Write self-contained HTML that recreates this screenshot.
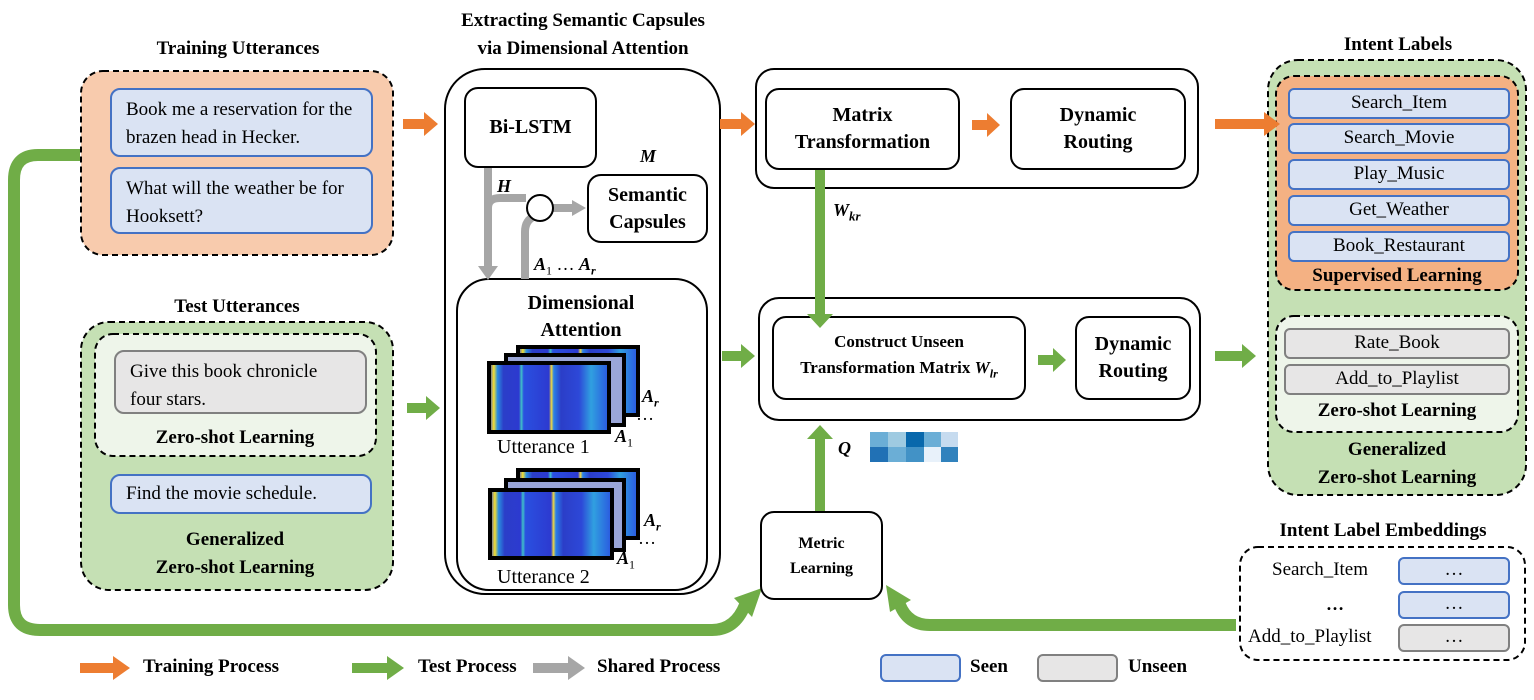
<!DOCTYPE html>
<html><head><meta charset="utf-8"><style>
body{margin:0;width:1534px;height:700px;background:#fff;position:relative;overflow:hidden;font-family:"Liberation Serif",serif;}
.a{position:absolute;box-sizing:border-box;}
.t{position:absolute;font-weight:bold;font-size:19px;text-align:center;white-space:nowrap;transform:translateX(-50%);}
.n{position:absolute;font-size:18px;white-space:nowrap;}
.box{position:absolute;box-sizing:border-box;border:2px solid #000;border-radius:14px;background:#fff;display:flex;align-items:center;justify-content:center;text-align:center;font-weight:bold;font-size:20px;line-height:27px;}
.bub{position:absolute;box-sizing:border-box;border:2px solid #4472c4;background:#dae3f3;border-radius:10px;font-size:19px;padding:6px 12px 6px 14px;line-height:28px;}
.gb{border-color:#808080;background:#e7e6e6;}
.lab{position:absolute;box-sizing:border-box;border:2px solid #4472c4;background:#dae3f3;border-radius:6px;font-size:19px;text-align:center;line-height:26px;}
.gl{border-color:#808080;background:#e7e6e6;}
i{font-style:italic;font-weight:bold;}
</style></head><body>
<svg class="a" style="left:0;top:0" width="1534" height="700">
<defs>
<linearGradient id="hm" x1="0" x2="1">
<stop offset="0" stop-color="#2b45d8"/><stop offset="0.04" stop-color="#f5e030"/><stop offset="0.07" stop-color="#2a8fe0"/><stop offset="0.12" stop-color="#2b3ec8"/><stop offset="0.25" stop-color="#2c3ad0"/><stop offset="0.27" stop-color="#3fc0c8"/><stop offset="0.29" stop-color="#2a50e0"/><stop offset="0.5" stop-color="#2c3ad0"/><stop offset="0.52" stop-color="#f0d840"/><stop offset="0.54" stop-color="#2a80e8"/><stop offset="0.6" stop-color="#2b3ec8"/><stop offset="0.75" stop-color="#2d48d8"/><stop offset="0.85" stop-color="#30a0e0"/><stop offset="1" stop-color="#2a55e0"/>
</linearGradient>
</defs>
<rect x="81" y="71" width="312" height="184" rx="22" fill="#f8cbad" stroke="#000" stroke-width="2" stroke-dasharray="6,4"/>
<rect x="81" y="322" width="312" height="268" rx="28" fill="#c5e0b4" stroke="#000" stroke-width="2" stroke-dasharray="6,4"/>
<rect x="95" y="334" width="281" height="122" rx="18" fill="#eef5ea" stroke="#000" stroke-width="2" stroke-dasharray="6,4"/>
<rect x="1268" y="60" width="258" height="435" rx="30" fill="#c5e0b4" stroke="#000" stroke-width="2" stroke-dasharray="6,4"/>
<rect x="1276" y="76" width="242" height="214" rx="18" fill="#f4b183" stroke="#000" stroke-width="2" stroke-dasharray="6,4"/>
<rect x="1276" y="316" width="242" height="116" rx="18" fill="#eef5ea" stroke="#000" stroke-width="2" stroke-dasharray="6,4"/>
<rect x="1240" y="547" width="285" height="113" rx="18" fill="#fff" stroke="#000" stroke-width="2" stroke-dasharray="6,4"/>
<rect x="445" y="69" width="275" height="525" rx="40" fill="#fff" stroke="#000" stroke-width="2"/>
<rect x="457" y="279" width="250" height="311" rx="32" fill="#fff" stroke="#000" stroke-width="2"/>
<rect x="756" y="69" width="442" height="119" rx="18" fill="#fff" stroke="#000" stroke-width="2"/>
<rect x="759" y="298" width="441" height="122" rx="20" fill="#fff" stroke="#000" stroke-width="2"/>
<g stroke="#a6a6a6" stroke-width="8" fill="none">
<path d="M488 168 V268"/>
<path d="M488 208 Q488 198 500 198 H526"/>
<path d="M553 208 H574"/>
<path d="M525 279 V232 Q525 220 535 216"/>
</g>
<polygon points="478,266 498,266 488,280" fill="#a6a6a6"/>
<polygon points="572,200 586,208 572,216" fill="#a6a6a6"/>
<circle cx="540" cy="208" r="13" fill="#fff" stroke="#000" stroke-width="2"/>
<g stroke="#000" stroke-width="4">
<rect x="518" y="347" width="120" height="68" fill="url(#hm)"/>
<rect x="506" y="355" width="118" height="70" fill="#9aa6d8"/>
<rect x="489" y="363" width="120" height="69" fill="url(#hm)"/>
<rect x="518" y="470" width="120" height="68" fill="url(#hm)"/>
<rect x="506" y="480" width="118" height="70" fill="#9aa6d8"/>
<rect x="490" y="490" width="122" height="68" fill="url(#hm)"/>
</g>
<g>
<rect x="870" y="432" width="18" height="15" fill="#6baed6"/><rect x="888" y="432" width="18" height="15" fill="#9ecae1"/><rect x="906" y="432" width="18" height="15" fill="#0868ac"/><rect x="924" y="432" width="17" height="15" fill="#6baed6"/><rect x="941" y="432" width="17" height="15" fill="#c6dbef"/>
<rect x="870" y="447" width="18" height="15" fill="#2171b5"/><rect x="888" y="447" width="18" height="15" fill="#6baed6"/><rect x="906" y="447" width="18" height="15" fill="#4292c6"/><rect x="924" y="447" width="17" height="15" fill="#e8f1fa"/><rect x="941" y="447" width="17" height="15" fill="#3182bd"/>
</g>
<g fill="#ed7d31">
<rect x="403" y="119" width="22" height="10"/><polygon points="424,112 438,124 424,136"/>
<rect x="720" y="119" width="22" height="10"/><polygon points="741,112 755,124 741,136"/>
<rect x="972" y="120" width="16" height="10"/><polygon points="987,113 1000,125 987,137"/>
<rect x="1215" y="119" width="50" height="10"/><polygon points="1264,112 1280,124 1264,136"/>
<rect x="80" y="663" width="34" height="10"/><polygon points="113,656 130,668 113,680"/>
</g>
<g fill="#70ad47">
<rect x="407" y="403" width="20" height="10"/><polygon points="426,396 440,408 426,420"/>
<rect x="722" y="351" width="20" height="10"/><polygon points="741,344 755,356 741,368"/>
<rect x="1038" y="355" width="16" height="10"/><polygon points="1053,348 1066,360 1053,372"/>
<rect x="1215" y="351" width="28" height="10"/><polygon points="1242,344 1256,356 1242,368"/>
<rect x="815" y="438" width="10" height="74"/><polygon points="807,439 833,439 820,425"/>
<rect x="352" y="663" width="36" height="10"/><polygon points="387,656 404,668 387,680"/>
</g>
<g fill="#a6a6a6"><rect x="533" y="663" width="36" height="10"/><polygon points="568,656 585,668 568,680"/></g>
<g stroke="#70ad47" stroke-width="12" fill="none">
<path d="M80 155 H38 Q14 155 14 180 V605 Q14 630 40 630 H712 Q735 630 745 605"/>
<path d="M1236 625 H930 Q908 625 900 605"/>
</g>
<polygon points="734,598 762,588 752,617" fill="#70ad47"/>
<polygon points="890,612 886,585 911,600" fill="#70ad47"/>
<rect x="881" y="655" width="79" height="26" rx="5" fill="#dae3f3" stroke="#4472c4" stroke-width="2"/>
<rect x="1038" y="655" width="79" height="26" rx="5" fill="#e7e6e6" stroke="#808080" stroke-width="2"/>
</svg>

<div class="t" style="left:238px;top:38px">Training Utterances</div>
<div class="bub" style="left:110px;top:88px;width:263px;height:69px">Book me a reservation for the brazen head in Hecker.</div>
<div class="bub" style="left:110px;top:167px;width:263px;height:67px">What will the weather be for Hooksett?</div>
<div class="t" style="left:237px;top:296px">Test Utterances</div>
<div class="bub gb" style="left:114px;top:350px;width:253px;height:64px">Give this book chronicle<br>four stars.</div>
<div class="t" style="left:235px;top:427px">Zero-shot Learning</div>
<div class="bub" style="left:110px;top:474px;width:262px;height:40px;line-height:24px">Find the movie schedule.</div>
<div class="t" style="left:235px;top:529px">Generalized</div>
<div class="t" style="left:235px;top:557px">Zero-shot Learning</div>

<div class="t" style="left:583px;top:10px">Extracting Semantic Capsules</div>
<div class="t" style="left:583px;top:38px">via Dimensional Attention</div>
<div class="box" style="left:464px;top:87px;width:133px;height:81px">Bi-LSTM</div>
<div class="box" style="left:587px;top:174px;width:121px;height:69px"><span>Semantic<br>Capsules</span></div>
<div class="n" style="left:640px;top:146px"><i>M</i></div>
<div class="n" style="left:497px;top:176px"><i>H</i></div>
<div class="n" style="left:534px;top:254px"><i>A</i><sub style="font-size:12px">1</sub> … <i>A<sub style="font-size:12px">r</sub></i></div>
<div class="t" style="left:581px;top:290px;font-size:20px;line-height:27px">Dimensional<br>Attention</div>
<div class="n" style="left:642px;top:386px"><i>A<sub style="font-size:12px">r</sub></i></div>
<div class="n" style="left:636px;top:404px">…</div>
<div class="n" style="left:615px;top:426px"><i>A</i><sub style="font-size:12px">1</sub></div>
<div class="n" style="left:497px;top:436px;font-size:20px">Utterance 1</div>
<div class="n" style="left:644px;top:510px"><i>A<sub style="font-size:12px">r</sub></i></div>
<div class="n" style="left:638px;top:528px">…</div>
<div class="n" style="left:617px;top:548px"><i>A</i><sub style="font-size:12px">1</sub></div>
<div class="n" style="left:497px;top:566px;font-size:20px">Utterance 2</div>

<div class="box" style="left:765px;top:88px;width:195px;height:82px"><span>Matrix<br>Transformation</span></div>
<div class="box" style="left:1010px;top:88px;width:176px;height:82px"><span>Dynamic<br>Routing</span></div>
<div class="n" style="left:833px;top:200px"><i>W<sub style="font-size:13px">kr</sub></i></div>
<div class="box" style="left:772px;top:316px;width:254px;height:84px;font-size:17px;line-height:26px;background:transparent"><span>Construct Unseen<br>Transformation Matrix <i>W<sub style="font-size:12px">lr</sub></i></span></div>
<svg class="a" style="left:800px;top:165px" width="40" height="170"><rect x="15" y="5" width="10" height="145" fill="#70ad47"/><polygon points="7,149 33,149 20,163" fill="#70ad47"/></svg>
<div class="box" style="left:1075px;top:316px;width:116px;height:84px"><span>Dynamic<br>Routing</span></div>
<div class="n" style="left:838px;top:438px"><i>Q</i></div>
<div class="box" style="left:760px;top:511px;width:123px;height:89px;font-size:16px;line-height:25px"><span>Metric<br>Learning</span></div>

<div class="t" style="left:1398px;top:34px">Intent Labels</div>
<div class="lab" style="left:1288px;top:88px;width:222px;height:31px">Search_Item</div>
<div class="lab" style="left:1288px;top:123px;width:222px;height:31px">Search_Movie</div>
<div class="lab" style="left:1288px;top:159px;width:222px;height:31px">Play_Music</div>
<div class="lab" style="left:1288px;top:195px;width:222px;height:31px">Get_Weather</div>
<div class="lab" style="left:1288px;top:231px;width:222px;height:31px">Book_Restaurant</div>
<div class="t" style="left:1397px;top:265px">Supervised Learning</div>
<div class="lab gl" style="left:1284px;top:328px;width:226px;height:31px">Rate_Book</div>
<div class="lab gl" style="left:1284px;top:364px;width:226px;height:31px">Add_to_Playlist</div>
<div class="t" style="left:1397px;top:400px">Zero-shot Learning</div>
<div class="t" style="left:1397px;top:439px">Generalized</div>
<div class="t" style="left:1397px;top:467px">Zero-shot Learning</div>

<div class="t" style="left:1383px;top:520px">Intent Label Embeddings</div>
<div class="n" style="left:1272px;top:559px;font-size:19px">Search_Item</div>
<div class="lab" style="left:1398px;top:557px;width:112px;height:28px;line-height:22px">…</div>
<div class="n" style="left:1326px;top:594px;font-weight:bold">…</div>
<div class="lab" style="left:1398px;top:591px;width:112px;height:28px;line-height:22px">…</div>
<div class="n" style="left:1248px;top:626px;font-size:19px">Add_to_Playlist</div>
<div class="lab gl" style="left:1398px;top:624px;width:112px;height:28px;line-height:22px">…</div>

<div class="n" style="left:143px;top:656px;font-weight:bold;font-size:19px">Training Process</div>
<div class="n" style="left:418px;top:656px;font-weight:bold;font-size:19px">Test Process</div>
<div class="n" style="left:597px;top:656px;font-weight:bold;font-size:19px">Shared Process</div>
<div class="n" style="left:970px;top:656px;font-weight:bold;font-size:19px">Seen</div>
<div class="n" style="left:1128px;top:656px;font-weight:bold;font-size:19px">Unseen</div>
</body></html>
